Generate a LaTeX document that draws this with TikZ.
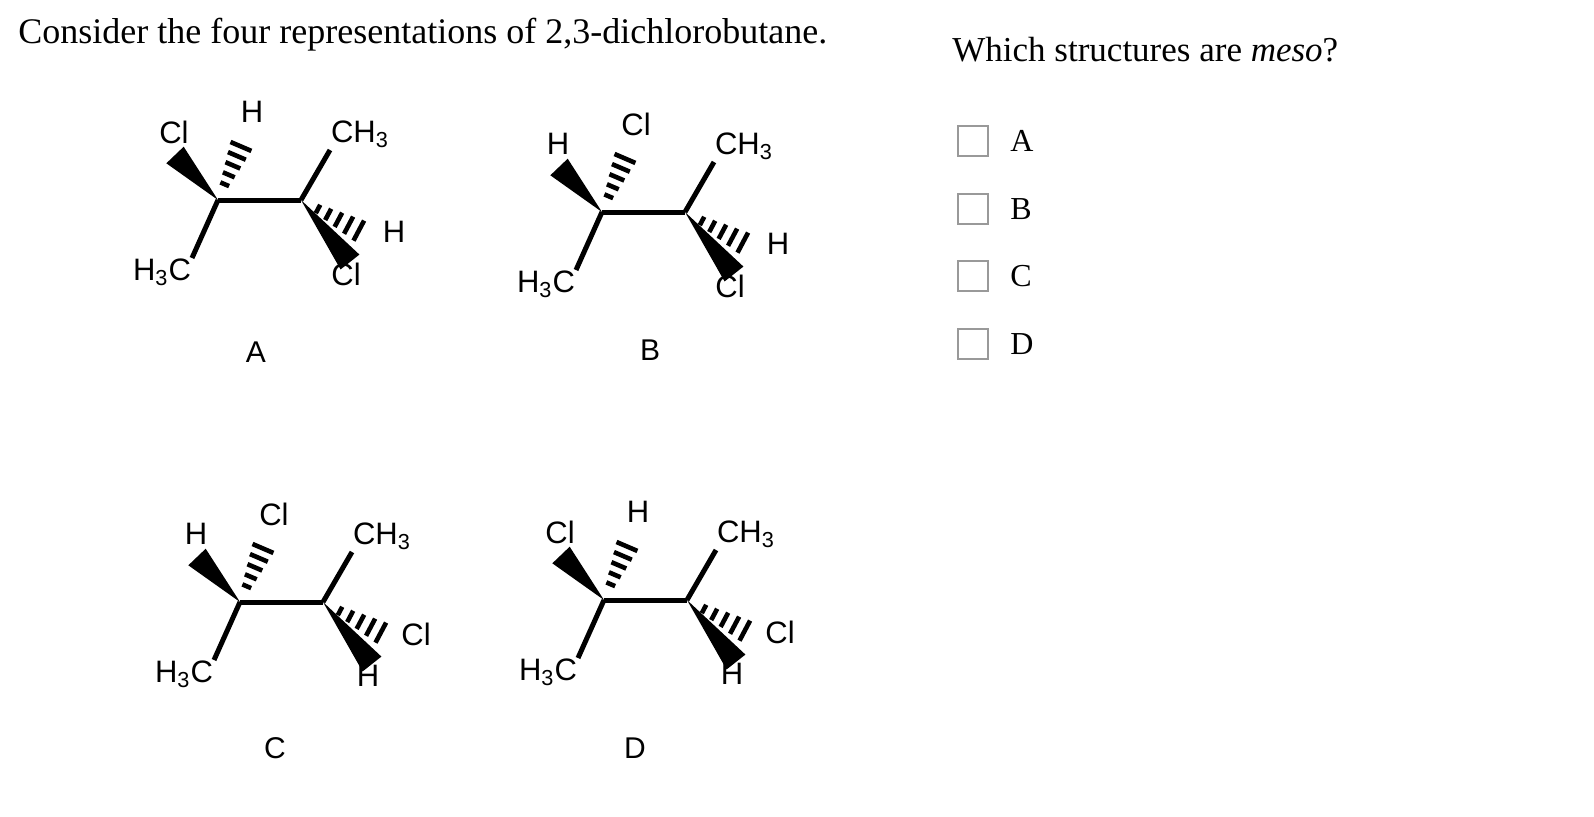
\documentclass[tikz,border=0pt]{standalone}
\usepackage{fontspec}
\setmainfont{Liberation Serif}
\newfontfamily\molfont{Liberation Sans}
\usetikzlibrary{calc}
\tikzset{
 bond/.style={line width=2.5pt},
 lbl/.style={font=\molfont\fontsize{15.5}{15.5}\selectfont, inner sep=0pt},
 labcap/.style={font=\molfont\fontsize{15}{15}\selectfont, inner sep=0pt},
 box/.style={draw=gray!80, line width=1.3pt, minimum size=15pt, inner sep=0pt},
 opt/.style={font=\fontsize{16}{16}\selectfont, inner sep=0pt, anchor=west}
}
\newcommand\sub[1]{\textsubscript{#1}}
% wedge from (#1) to (#2)
\newcommand\wedgebond[2]{\fill ($(#2)!6pt!90:(#1)$) -- (#1) -- ($(#2)!6pt!-90:(#1)$) -- cycle;}
\newcommand\hashbond[2]{\foreach \t in {0.25,0.4,0.55,0.7,0.85,1.0}{
  \draw[line width=2.3pt] ($($(#1)!\t!(#2)$)!1pt+5.5pt*\t!90:(#2)$) -- ($($(#1)!\t!(#2)$)!1pt+5.5pt*\t!-90:(#2)$);}}
% \mol{prefix}{ox}{oy}{wedge1 label}{hash1 label}{hash2 label}{wedge2 label}
\newcommand\mol[7]{
\begin{scope}[shift={(#2,#3)}]
 \coordinate (#1a) at (0,0);
 \coordinate (#1b) at (83,0);
 \coordinate (#1m) at (-26,58);
 \coordinate (#1w) at (-43,-45);
 \coordinate (#1h) at (27,-63);
 \coordinate (#1u) at (112,-50);
 \coordinate (#1hr) at (151,36);
 \coordinate (#1wr) at (132,62);
 \draw[bond] (#1a) -- (#1b);
 \draw[bond] (#1a) -- (#1m);
 \draw[bond] (#1b) -- (#1u);
 \wedgebond{#1a}{#1w}
 \hashbond{#1a}{#1h}
 \hashbond{#1b}{#1hr}
 \wedgebond{#1b}{#1wr}
 \node[lbl] (#1L1) at (-56,72) {H\sub{3}C};
 \node[lbl] (#1L2) at (-44,-68) {#4};
 \node[lbl] (#1L3) at (34,-88) {#5};
 \node[lbl] (#1L4) at (142,-66) {CH\sub{3}};
 \node[lbl] (#1L5) at (176,32) {#6};
 \node[lbl] (#1L6) at (128,74) {#7};
\end{scope}}
\begin{document}
\begin{tikzpicture}[x=0.5pt,y=-0.5pt]
\useasboundingbox (0,0) rectangle (1594,816);
\node[anchor=west, inner sep=0pt, font=\fontsize{18}{18}\selectfont] (title) at (18,35) {Consider the four representations of 2,3-dichlorobutane.};
\node[anchor=west, inner sep=0pt, font=\fontsize{17.5}{18}\selectfont] (q) at (952,50) {Which structures are \textit{meso}?};
\mol{A}{218}{200}{Cl}{H}{H}{Cl}
\mol{B}{602}{212}{H}{Cl}{H}{Cl}
\mol{C}{240}{602}{H}{Cl}{Cl}{H}
\mol{D}{604}{600}{Cl}{H}{Cl}{H}
\node[labcap] (nA) at (256,352) {A};
\node[labcap] (nB) at (650,350) {B};
\node[labcap] (nC) at (275,748) {C};
\node[labcap] (nD) at (635,748) {D};
\foreach \l/\y in {A/141,B/209,C/276,D/344}{
 \node[box] (b\l) at (973,\y) {};
 \node[opt] (o\l) at (1010,\y) {\l};
}
\end{tikzpicture}
\end{document}
